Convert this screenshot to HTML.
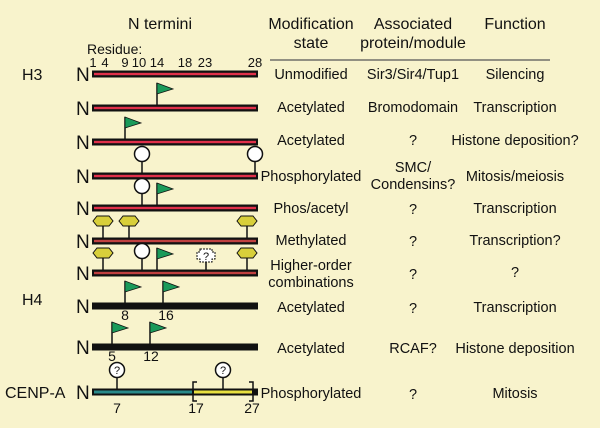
<!DOCTYPE html>
<html><head><style>body{margin:0;background:#f8f3cc}svg{display:block}</style></head><body>
<svg width="600" height="428" viewBox="0 0 600 428" xmlns="http://www.w3.org/2000/svg" font-family="Liberation Sans, sans-serif" fill="#111">
<rect width="600" height="428" fill="#f8f3cc"/>
<defs>
<g id="flag"><line x1="0" y1="0" x2="0" y2="-22" stroke="#111" stroke-width="1.5"/><polygon points="0,-22 16,-16 0,-11" fill="#1a9a5a" stroke="#111" stroke-width="0.8"/></g>
<g id="circ"><line x1="0" y1="0" x2="0" y2="-12" stroke="#111" stroke-width="1.5"/><circle cx="0" cy="-19" r="7.5" fill="#fff" stroke="#111" stroke-width="1.5"/></g>
<g id="hex"><line x1="0" y1="0" x2="0" y2="-13" stroke="#111" stroke-width="1.5"/><polygon points="-10,-17 -6,-22 6,-22 10,-17 6,-12 -6,-12" fill="#d8cf3a" stroke="#111" stroke-width="1"/></g>
<g id="redbar"><rect x="92" y="-3.5" width="166" height="7" fill="#111"/><rect x="94" y="-1.2" width="162" height="2.4" fill="#e0304a"/></g>
<g id="brbar"><rect x="92" y="-3.5" width="166" height="7" fill="#111"/><rect x="94" y="-1.2" width="162" height="2.4" fill="#c04040"/></g>
<g id="blkbar"><rect x="92" y="-3.5" width="166" height="7" fill="#111"/></g>
</defs>
<g font-size="16" text-anchor="middle">
<text x="160" y="29">N termini</text>
<text x="311" y="29">Modification</text><text x="311" y="48">state</text>
<text x="413" y="29">Associated</text><text x="413" y="48">protein/module</text>
<text x="515" y="29">Function</text>
</g>
<line x1="270" y1="60" x2="550" y2="60" stroke="#555" stroke-width="1.2"/>
<text x="87" y="54" font-size="14">Residue:</text>
<g font-size="13" text-anchor="middle"><text x="93" y="67">1</text><text x="105" y="67">4</text><text x="125" y="67">9</text><text x="139" y="67">10</text><text x="157" y="67">14</text><text x="185" y="67">18</text><text x="205" y="67">23</text><text x="255" y="67">28</text></g>
<g font-size="16"><text x="22" y="80">H3</text><text x="22" y="305">H4</text><text x="5" y="398">CENP-A</text></g>
<g font-size="19">
<text x="76" y="81">N</text><text x="76" y="115">N</text><text x="76" y="149">N</text><text x="76" y="183">N</text><text x="76" y="215">N</text><text x="76" y="248">N</text><text x="76" y="280">N</text><text x="76" y="313">N</text><text x="76" y="354">N</text><text x="76" y="399">N</text>
</g>
<use href="#redbar" y="74"/><use href="#redbar" y="108"/><use href="#redbar" y="142"/><use href="#redbar" y="176"/><use href="#redbar" y="208"/><use href="#brbar" y="241"/><use href="#brbar" y="273"/><use href="#blkbar" y="306"/><use href="#blkbar" y="347"/>
<rect x="92" y="388.5" width="166" height="7" fill="#111"/><rect x="94" y="390.5" width="98" height="3" fill="#2a8a8a"/><rect x="194" y="390.5" width="58" height="3" fill="#e8e040"/>
<path d="M197,382 h-4 v19 h4 M249,382 h4 v19 h-4" fill="none" stroke="#111" stroke-width="1.5"/>
<use href="#flag" x="157" y="105"/>
<use href="#flag" x="125" y="139"/>
<use href="#circ" x="142" y="173"/><use href="#circ" x="255" y="173"/>
<use href="#circ" x="142" y="205"/><use href="#flag" x="157" y="205"/>
<use href="#hex" x="103" y="238"/><use href="#hex" x="129" y="238"/><use href="#hex" x="247" y="238"/>
<use href="#hex" x="103" y="270"/><use href="#circ" x="142" y="270"/><use href="#flag" x="157" y="270"/><use href="#hex" x="247" y="270"/>
<line x1="206" y1="270" x2="206" y2="262" stroke="#111" stroke-width="1.5"/>
<path d="M200,249 h12 v3 h3 v7 h-3 v3 h-12 v-3 h-3 v-7 h3 z" fill="#fff" stroke="#111" stroke-width="1" stroke-dasharray="2,1"/>
<text x="206" y="260" font-size="11" text-anchor="middle">?</text>
<use href="#flag" x="125" y="303"/><use href="#flag" x="163" y="303"/>
<use href="#flag" x="112" y="344"/><use href="#flag" x="150" y="344"/>
<use href="#circ" x="117" y="389"/><use href="#circ" x="223" y="389"/>
<text x="117" y="374" font-size="11" text-anchor="middle">?</text><text x="223" y="374" font-size="11" text-anchor="middle">?</text>
<g font-size="14" text-anchor="middle"><text x="125" y="320">8</text><text x="166" y="320">16</text><text x="112" y="361">5</text><text x="151" y="361">12</text><text x="117" y="413">7</text><text x="196" y="413">17</text><text x="252" y="413">27</text></g>
<g font-size="14.5" text-anchor="middle">
<text x="311" y="79">Unmodified</text><text x="413" y="79">Sir3/Sir4/Tup1</text><text x="515" y="79">Silencing</text>
<text x="311" y="112">Acetylated</text><text x="413" y="112">Bromodomain</text><text x="515" y="112">Transcription</text>
<text x="311" y="145">Acetylated</text><text x="413" y="145">?</text><text x="515" y="145">Histone deposition?</text>
<text x="311" y="181">Phosphorylated</text><text x="413" y="172">SMC/</text><text x="413" y="189">Condensins?</text><text x="515" y="181">Mitosis/meiosis</text>
<text x="311" y="213">Phos/acetyl</text><text x="413" y="214">?</text><text x="515" y="213">Transcription</text>
<text x="311" y="245">Methylated</text><text x="413" y="246">?</text><text x="515" y="245">Transcription?</text>
<text x="311" y="270">Higher-order</text><text x="311" y="287">combinations</text><text x="413" y="279">?</text><text x="515" y="277">?</text>
<text x="311" y="312">Acetylated</text><text x="413" y="313">?</text><text x="515" y="312">Transcription</text>
<text x="311" y="353">Acetylated</text><text x="413" y="353">RCAF?</text><text x="515" y="353">Histone deposition</text>
<text x="311" y="398">Phosphorylated</text><text x="413" y="399">?</text><text x="515" y="398">Mitosis</text>
</g>
</svg>
</body></html>
